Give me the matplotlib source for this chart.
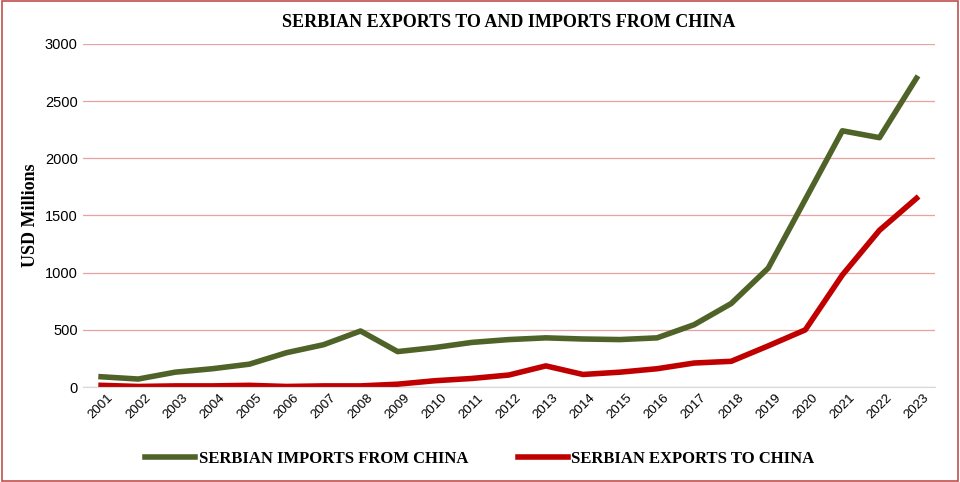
import matplotlib.pyplot as plt

years = [str(y) for y in range(2001, 2024)]
imports = [90, 70, 130, 160, 200, 300, 370, 490, 310, 345, 390, 415, 430,
           420, 415, 430, 545, 730, 1040, 1640, 2240, 2180, 2700]
exports = [15, 5, 10, 10, 15, 5, 10, 10, 25, 55, 75, 105, 185,
           110, 130, 160, 210, 225, 360, 500, 980, 1370, 1650]

plt.rcParams['font.family'] = ['Liberation Serif', 'DejaVu Serif']

fig = plt.figure(figsize=(9.6, 4.82), dpi=100)
ax = fig.add_axes([0.086, 0.197, 0.888, 0.712])
fig.patches.append(plt.Rectangle((0.002, 0.003), 0.996, 0.994, transform=fig.transFigure,
                                 fill=False, edgecolor='#c0504d', linewidth=1.2))

x = range(len(years))
ax.plot(x, imports, color='#4f6228', linewidth=4, label='SERBIAN IMPORTS FROM CHINA')
ax.plot(x, exports, color='#c00000', linewidth=4, label='SERBIAN EXPORTS TO CHINA')

ax.set_ylim(0, 3000)
ax.set_xlim(-0.5, len(years) - 0.5)
ax.set_yticks(range(0, 3001, 500))
ax.set_xticks(list(x))
ax.set_xticklabels(years, rotation=45, fontsize=9.5, family='Liberation Sans')
for lbl in ax.get_yticklabels():
    lbl.set_family('Liberation Sans')
ax.tick_params(axis='y', labelsize=10.5, length=0)
ax.tick_params(axis='x', length=0)
ax.grid(axis='y', color='#e6a3a0', linewidth=0.9)
ax.set_axisbelow(True)
for s in ['top', 'right', 'left']:
    ax.spines[s].set_visible(False)
ax.spines['bottom'].set_color('#d9d9d9')

ax.set_ylabel('USD Millions', fontsize=13, fontweight='bold')
ax.set_title('SERBIAN EXPORTS TO AND IMPORTS FROM CHINA', fontsize=13,
             fontweight='bold', pad=12)
fig.legend(loc='lower center', bbox_to_anchor=(0.5, 0.0), ncol=2, frameon=False,
           prop={'weight': 'bold', 'size': 12}, handlelength=3, handletextpad=0.2,
           columnspacing=3)

fig.savefig('out.png')
